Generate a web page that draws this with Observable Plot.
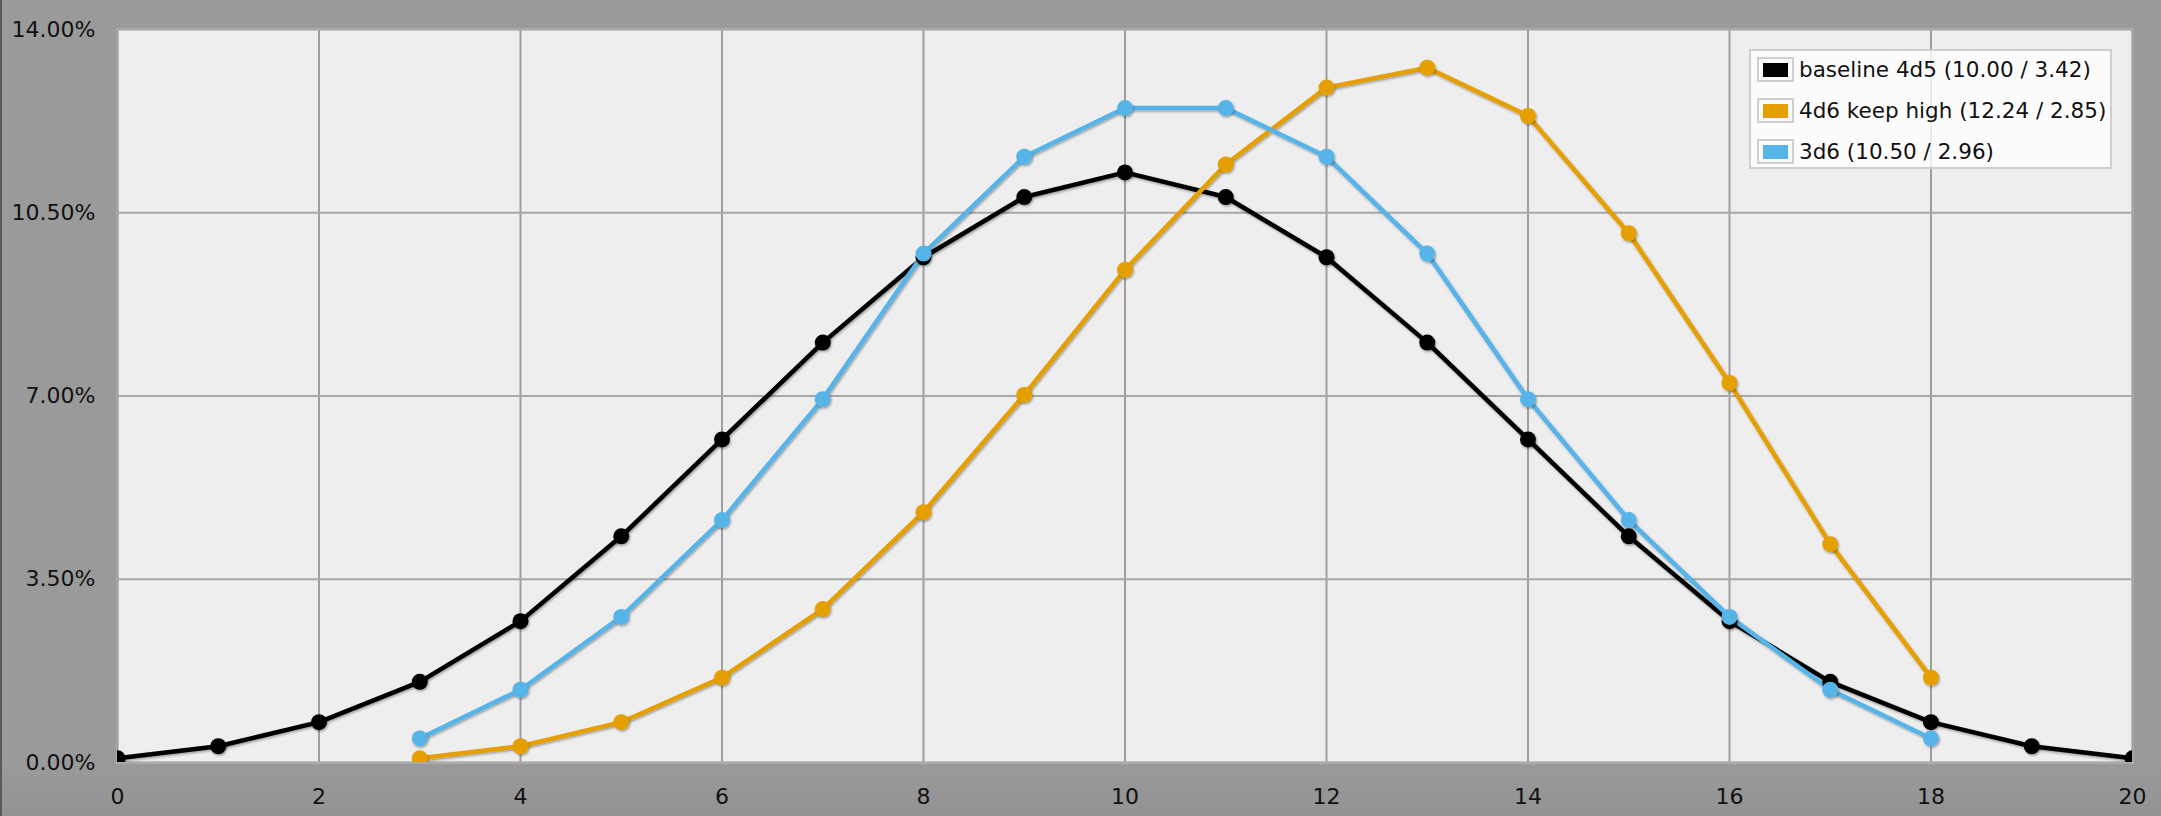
<!DOCTYPE html>
<html>
<head>
<meta charset="utf-8">
<script src="https://cdn.jsdelivr.net/npm/d3@7"></script>
<script src="https://cdn.jsdelivr.net/npm/@observablehq/plot@0.6"></script>
<style>
  html, body { margin: 0; padding: 0; background: #999999; }
  #wrap { position: relative; width: 2161px; height: 816px; overflow: hidden;
          background: linear-gradient(to bottom, #9a9a9a 0px, #9a9a9a 760px, #939393 816px); }
  #edge { position: absolute; left: 0; top: 0; width: 2px; height: 816px; background: #5a5a5a; }
  #legend {
    position: absolute; left: 1749px; top: 49px; width: 359px; height: 116px;
    background: rgba(255,255,255,0.8); border: 2px solid #cfcfcf;
    font-family: "DejaVu Sans", Verdana, sans-serif; font-size: 21.5px; color: #111;
  }
  .row { position: absolute; left: 6px; height: 25px; display: flex; align-items: center; }
  .sw { width: 33px; height: 21px; border: 2px solid #cfcfcf; background: #fafafa; position: relative; box-sizing: content-box; flex: none; }
  .sw i { position: absolute; left: 4px; top: 4px; width: 25px; height: 14px; }
  .lab { margin-left: 5px; white-space: nowrap; }
</style>
</head>
<body>
<div id="wrap"><div id="edge"></div></div>
<script>
// ---- data ----
const baselineX = [0,1,2,3,4,5,6,7,8,9,10,11,12,13,14,15,16,17,18,19,20];
const baselinePct = [0.08,0.31,0.77,1.54,2.70,4.32,6.17,8.02,9.65,10.80,11.27,10.80,9.65,8.02,6.17,4.32,2.70,1.54,0.77,0.31,0.08];
const diceX = [3,4,5,6,7,8,9,10,11,12,13,14,15,16,17,18];
const keepHighPct = [0.08,0.31,0.77,1.62,2.93,4.78,7.02,9.41,11.42,12.89,13.27,12.35,10.11,7.25,4.17,1.62];
const threeD6Pct = [0.46,1.39,2.78,4.63,6.94,9.72,11.57,12.50,12.50,11.57,9.72,6.94,4.63,2.78,1.39,0.46];
const seriesNames = ["baseline 4d5 (10.00 / 3.42)", "4d6 keep high (12.24 / 2.85)", "3d6 (10.50 / 2.96)"];
const seriesColors = ["#000000", "#e69f00", "#56b4e9"];
const xTicks = [0,2,4,6,8,10,12,14,16,18,20];
const yTicks = [0,3.5,7,10.5,14];

const rows = [];
baselineX.forEach((x,i) => rows.push({s: seriesNames[0], x, y: baselinePct[i]}));
diceX.forEach((x,i) => rows.push({s: seriesNames[1], x, y: keepHighPct[i]}));
diceX.forEach((x,i) => rows.push({s: seriesNames[2], x, y: threeD6Pct[i]}));

const fmt = d => d.toFixed(2) + "%";
const chart = Plot.plot({
  width: 2161, height: 816,
  marginLeft: 117, marginRight: 29, marginTop: 29, marginBottom: 54,
  style: {background: "transparent", fontFamily: "'DejaVu Sans', Verdana, sans-serif", fontSize: "22px", color: "#111"},
  x: {domain: [0,20], label: null},
  y: {domain: [0,14], label: null},
  color: {domain: seriesNames, range: seriesColors},
  marks: [
    Plot.frame({fill: "#eeeeee", stroke: "#cdcdcd", strokeWidth: 2}),
    Plot.gridX(xTicks, {stroke: "#9e9e9e", strokeOpacity: 1, strokeWidth: 2}),
    Plot.gridY(yTicks, {stroke: "#a8a8a8", strokeOpacity: 1, strokeWidth: 2}),
    Plot.line(rows, {x: "x", y: "y", z: "s", stroke: "s", strokeWidth: 4.5, clip: true}),
    Plot.dot(rows, {x: "x", y: "y", fill: "s", r: 8, clip: true}),
    Plot.axisX({ticks: xTicks, tickSize: 0, tickPadding: 26, fill: "#111", fontSize: 22, label: null}),
    Plot.axisY({ticks: yTicks, tickSize: 0, tickPadding: 22, tickFormat: fmt, fill: "#111", fontSize: 22, label: null})
  ]
});
document.getElementById("wrap").appendChild(chart);

// soft drop shadow on data marks
const svg = d3.select(chart);
const defs = svg.insert("defs", ":first-child");
const f = defs.append("filter").attr("id", "shadow").attr("x", "-10%").attr("y", "-10%").attr("width", "120%").attr("height", "120%");
f.append("feDropShadow").attr("dx", 1).attr("dy", 1.5).attr("stdDeviation", 1.2).attr("flood-color", "#000").attr("flood-opacity", 0.35);
svg.selectAll('g[aria-label="line"], g[aria-label="dot"]').attr("filter", "url(#shadow)");

// legend
const legend = document.createElement("div");
legend.id = "legend";
const rowTops = [6, 47, 88];
seriesNames.forEach((n, i) => {
  const r = document.createElement("div");
  r.className = "row";
  r.style.top = rowTops[i] + "px";
  r.innerHTML = `<div class="sw"><i style="background:${seriesColors[i]}"></i></div><span class="lab">${n}</span>`;
  legend.appendChild(r);
});
document.getElementById("wrap").appendChild(legend);
</script>
</body>
</html>
